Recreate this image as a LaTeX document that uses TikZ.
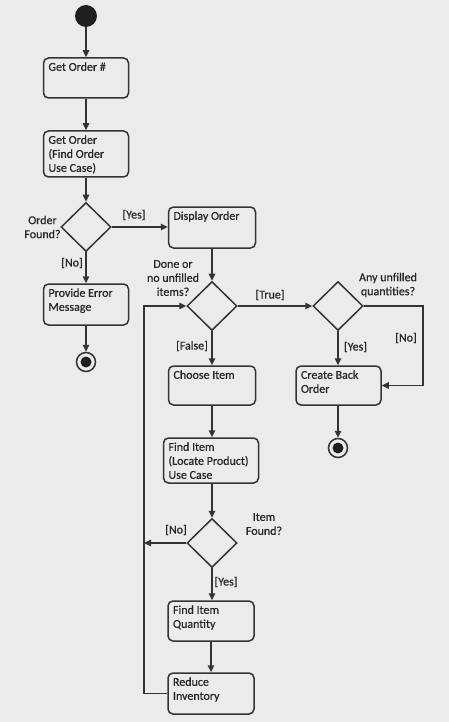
\documentclass[tikz,border=0pt]{standalone}
\usepackage{fontspec}
\setmainfont{Carlito}
\newfontface\diafont{Carlito}[FakeBold=0.6]
\usetikzlibrary{shapes.geometric,arrows.meta}
\definecolor{bg}{HTML}{EBEBEB}
\definecolor{ink}{HTML}{333333}
\definecolor{txt}{HTML}{262626}
\newcommand{\acttext}[3]{\parbox[t][#2pt][t]{#1pt}{\begin{tabular}[t]{@{}l@{}}#3\end{tabular}}}
\begin{document}
\begin{tikzpicture}[x=1pt,y=-1pt,
  every node/.style={font=\diafont\fontsize{12}{14}\selectfont, text=txt},
  act/.style={draw=ink, line width=1.5pt, rounded corners=5pt, inner xsep=5pt, inner ysep=3pt, anchor=center},
  dec/.style={draw=ink, line width=1.5pt, diamond, minimum width=50pt, minimum height=49pt, inner sep=0pt, anchor=center},
  startnode/.style={circle, fill=ink!60!black, minimum size=22pt, inner sep=0pt},
  endnode/.style={circle, draw=ink, line width=1.5pt, minimum size=19pt, inner sep=0pt,
     path picture={\fill[ink!60!black] (path picture bounding box.center) circle (5.5pt);}},
  lbl/.style={align=center, inner sep=0pt},
  flow/.style={draw=ink, line width=1.5pt, -{Triangle[length=7pt,width=6.5pt]}},
  line/.style={draw=ink, line width=1.5pt}
]
\fill[bg] (0,0) rectangle (449,722);
\useasboundingbox (0,0) rectangle (449,722);

% left column
\node[startnode] (start) at (86,16) {};
\node[act] (getnum) at (86,78) {\acttext{75}{34}{Get Order \#}};
\node[act] (getord) at (86,154) {\acttext{75}{40}{Get Order\\(Find Order\\Use Case)}};
\node[dec] (d1) at (86,227) {};
\node[act] (err) at (86,304.5) {\acttext{75}{35}{Provide Error\\Message}};
\node[endnode] (end1) at (86,362) {};

% middle column
\node[act] (disp) at (212,227.5) {\acttext{77}{35}{Display Order}};
\node[dec] (d2) at (212,306) {};
\node[act] (choose) at (212,385.5) {\acttext{77}{33}{Choose Item}};
\node[act] (find) at (211,460.5) {\acttext{85}{39}{Find Item\\(Locate Product)\\Use Case}};
\node[dec] (d4) at (212,543) {};
\node[act] (qty) at (211,621) {\acttext{76}{34}{Find Item\\Quantity}};
\node[act] (reduce) at (211,693.5) {\acttext{76}{35}{Reduce\\Inventory}};

% right column
\node[dec] (d3) at (338,306) {};
\node[act] (back) at (338.5,385.5) {\acttext{75}{33}{Create Back\\Order}};
\node[endnode] (end2) at (338,448) {};

\coordinate (lp) at (144,306);
\coordinate (rn) at (423,306);

% labels
\node[lbl] (l1) at (42.5,227) {Order\\Found?};
\node[lbl] (l2) at (134,215) {[Yes]};
\node[lbl] (l3) at (72,263) {[No]};
\node[lbl] (l4) at (173,278) {Done or\\no unfilled\\items?};
\node[lbl] (l5) at (270,295) {[True]};
\node[lbl] (l6) at (388,285) {Any unfilled\\quantities?};
\node[lbl] (l7) at (406,338) {[No]};
\node[lbl] (l8) at (355.5,347) {[Yes]};
\node[lbl] (l9) at (192,346) {[False]};
\node[lbl] (l10) at (264,524) {Item\\Found?};
\node[lbl] (l11) at (176,530) {[No]};
\node[lbl] (l12) at (226,582) {[Yes]};

% connectors
\draw[flow] (start) -- (getnum);
\draw[flow] (getnum) -- (getord);
\draw[flow] (getord) -- (d1);
\draw[flow] (d1.east) -- (disp.west |- d1.east);
\draw[flow] (d1.south) -- (err.north);
\draw[flow] (err) -- (end1);
\draw[flow] (disp) -- (d2);
\draw[flow] (d2.east) -- (d3.west);
\draw[flow] (d2.south) -- (choose.north);
\draw[flow] (choose.south) -- (find.north -| choose.south);
\draw[flow] (find.south -| d4.north) -- (d4.north);
\draw[flow] (d4.south) -- (qty.north -| d4.south);
\draw[flow] (qty.south) -- (reduce.north);
\draw[flow] (reduce.west) -| (lp) -- (d2.west);
\draw[flow] (d4.west) -- (d4.west -| lp);
\draw[flow] (d3.south) -- (back.north -| d3.south);
\draw[flow] (d3.east) -- (rn) |- (back.east);
\draw[flow] (back.south -| end2) -- (end2);
\end{tikzpicture}
\end{document}
